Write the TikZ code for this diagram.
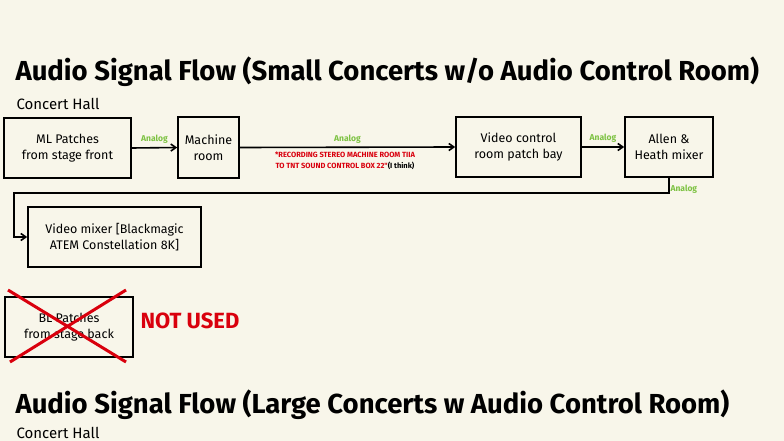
\documentclass[tikz,border=0pt]{standalone}
\usepackage{fontspec}
\setmainfont{Fira Sans}
\usetikzlibrary{arrows.meta}
\definecolor{bg}{HTML}{F8F6EA}
\definecolor{ana}{HTML}{7DC242}
\definecolor{red1}{HTML}{D9000D}
\begin{document}
\begin{tikzpicture}[x=1pt,y=-1pt,
  box/.style={draw,line width=1.6pt,align=center,inner sep=0pt,font=\fontsize{12.5}{16}\selectfont},
  wire/.style={line width=1.6pt,-{Straight Barb[length=5pt,width=7pt]}},
  lab/.style={text=ana,font=\bfseries\fontsize{8.5}{9}\selectfont},
  title/.style={font=\bfseries\fontsize{27.5}{30}\selectfont,anchor=west}]
\fill[bg] (0,0) rectangle (784,441);
\useasboundingbox (0,0) rectangle (784,441);
\node[title] (t1) at (12,72) {Audio Signal Flow (Small Concerts w/o Audio Control Room)};
\node[anchor=west,font=\fontsize{15}{16}\selectfont] (h1) at (13,104) {Concert Hall};
\node[box,minimum width=127pt,minimum height=60pt] (ml) at (67.5,148) {ML Patches\\from stage front};
\node[box,minimum width=61pt,minimum height=61pt] (mr) at (208.5,147.5) {Machine\\room};
\node[box,minimum width=125pt,minimum height=60pt] (vc) at (518.5,147) {Video control\\room patch bay};
\node[box,minimum width=88pt,minimum height=60pt] (ah) at (669,147) {Allen \&\\Heath mixer};
\node[box,minimum width=173pt,minimum height=60pt] (vm) at (114.5,237) {Video mixer [Blackmagic\\ATEM Constellation 8K]};
\node[box,minimum width=128pt,minimum height=60pt] (bl) at (69,327) {BL Patches\\from stage back};
\draw[red1,line width=3pt] (8,290) -- (126,362) (126,290) -- (10,362);
\node[anchor=west,text=red1,font=\bfseries\fontsize{22}{24}\selectfont] (nu) at (137,321) {NOT USED};
\draw[wire] (ml.east) -- (mr.west) node[lab,midway,above] {Analog};
\draw[wire] (mr.east) -- (vc.west) node[lab,midway,above] {Analog};
\draw[wire] (vc.east) -- (ah.west) node[lab,midway,above] {Analog};
\coordinate (c1) at (669,193);
\coordinate (c2) at (14,193);
\draw[wire] (ah.south) -- (c1) -- (c2) |- (vm.west);
\node[lab,anchor=west] (l4) at (667,189) {Analog};
\node[text=red1,font=\bfseries\fontsize{7.5}{11}\selectfont,align=center] (note) at (345,161) {*RECORDING STEREO MACHINE ROOM TIIA\\TO TNT SOUND CONTROL BOX 22\textquotedbl{\color{black}(I think)}};
\node[title] (t2) at (12,405) {Audio Signal Flow (Large Concerts w Audio Control Room)};
\node[anchor=west,font=\fontsize{15}{16}\selectfont] (h2) at (13,433) {Concert Hall};
\end{tikzpicture}
\end{document}
